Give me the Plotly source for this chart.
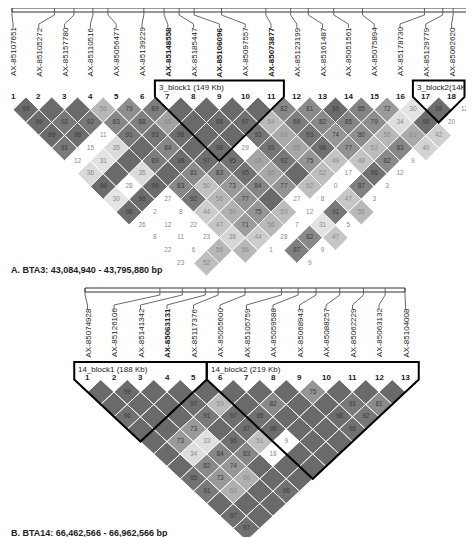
import plotly.graph_objects as go

# ---- panel A: BTA3 ----
snps_a = ["AX-85107651", "AX-85105272", "AX-85157780", "AX-85110516", "AX-85056477",
          "AX-85139229", "AX-85148558", "AX-85185447", "AX-85106096", "AX-85097557",
          "AX-85073877", "AX-85123199", "AX-85161487", "AX-85051561", "AX-85075894",
          "AX-85178730", "AX-85129779", "AX-85062620", "AX-85116960"]
bold_a = [7, 9, 11]
pos_a_kb = [0, 65, 95, 124, 147, 202, 233, 256, 279, 321, 389, 427, 454, 493, 537, 632, 660, 676, 711]
# LD rows: ld_a[i-1] holds values for pairs (i, i+1), (i, i+2), ...  100 = no number shown
ld_a = [
    [99, 99, 99, 91, 12, 36, 99, 30, 98, 26, 8, 22, 23],
    [100, 92, 98, 15, 31, 100, 28, 99, 2, 12, 11, 6, 52],
    [100, 92, 11, 35, 100, 35, 99, 27, 8, 22, 23, 56],
    [56, 83, 91, 100, 89, 100, 83, 92, 44, 47, 38, 56],
    [79, 88, 93, 84, 98, 81, 50, 56, 59, 71, 44, 1],
    [89, 68, 98, 100, 97, 83, 73, 77, 75, 56, 28, 87, 9],
    [100, 100, 100, 98, 95, 95, 84, 100, 53, 7, 82, 9],
    [100, 98, 100, 29, 66, 65, 77, 27, 12, 31, 47],
    [100, 97, 93, 93, 92, 100, 52, 8, 91, 5],
    [100, 54, 63, 65, 75, 52, 0, 47, 55],
    [82, 89, 93, 96, 49, 17, 87, 3],
    [81, 82, 74, 77, 49, 96, 3],
    [99, 85, 80, 53, 82, 12],
    [85, 79, 56, 83, 9],
    [72, 34, 63, 40],
    [30, 98, 42],
    [98, 20],
    [12],
]
blocks_a = [(7, 11, "3_block1 (149 Kb)"), (17, 18, "3_block2(14Kb)")]

# ---- panel B: BTA14 ----
snps_b = ["AX-85074928", "AX-85126106", "AX-85141342", "AX-85063131", "AX-85117376",
          "AX-85055600", "AX-85105759", "AX-85059588", "AX-85068943", "AX-85088257",
          "AX-85062229", "AX-85063132", "AX-85104008"]
bold_b = [4]
pos_b_kb = [0, 117, 152, 188, 208, 250, 307, 333, 361, 398, 435, 469, 500]
ld_b = [
    [100, 100, 96, 100, 100, 100, 100, 95, 91, 100, 97, 97],
    [99, 100, 100, 100, 73, 34, 82, 73, 60, 100, 100],
    [100, 100, 100, 73, 33, 84, 74, 60, 100, 100],
    [100, 97, 91, 100, 96, 83, 100, 100, 96],
    [100, 53, 97, 97, 51, 18, 100, 100],
    [100, 100, 95, 98, 9, 100, 100],
    [100, 82, 100, 100, 100, 100],
    [100, 100, 100, 100, 100],
    [75, 100, 98, 96],
    [100, 91, 92],
    [100, 81],
    [100],
]
blocks_b = [(1, 5, "14_block1 (188 Kb)"), (6, 13, "14_block2 (219 Kb)")]

FONT = "Liberation Sans, Arial, sans-serif"


def cell_fill(v):
    if v < 30:
        return "#ffffff"
    g = int(min(235, 106 + (100 - v) * 1.75))
    return f"rgb({g},{g},{g})"


def draw_panel(fig, snps, bold, pos_kb, ld, blocks, geo, map_x):
    x0, hx, y1, dy, map_y, lab_y, num_y, box_top = geo
    n = len(snps)
    xs = [x0 + 2 * hx * k for k in range(n)]

    # physical map bar with ticks and connectors
    span = pos_kb[-1]
    mx0, mx1 = map_x
    fig.add_shape(type="rect", x0=mx0, x1=mx1, y0=map_y - 4, y1=map_y,
                  line=dict(color="#333", width=1), fillcolor="white")
    lab_top = lab_y - 24
    for k in range(n):
        tx = mx0 + (mx1 - mx0) * pos_kb[k] / span
        fig.add_shape(type="path",
                      path=f"M{tx},{map_y - 4} L{tx},{map_y + 3} L{xs[k]},{lab_top - 4} L{xs[k]},{lab_top}",
                      line=dict(color="#444", width=0.8))
        name = f"<b>{snps[k]}</b>" if k + 1 in bold else snps[k]
        fig.add_annotation(x=xs[k], y=lab_y, text=name, textangle=-90, showarrow=False,
                           xanchor="center", yanchor="middle",
                           font=dict(family=FONT, size=8, color="#222"))
        fig.add_annotation(x=xs[k], y=num_y, text=f"<b>{k + 1}</b>", showarrow=False,
                           font=dict(family=FONT, size=8, color="#222"))

    tx_, ty_, tt_, tc_ = [], [], [], []
    for i, row in enumerate(ld):
        for off, v in enumerate(row):
            j = i + off + 1
            d = j - i
            cx = (xs[i] + xs[j]) / 2
            cy = y1 + (d - 1) * dy
            fig.add_shape(type="path",
                          path=f"M{cx - hx},{cy} L{cx},{cy - dy} L{cx + hx},{cy} L{cx},{cy + dy} Z",
                          fillcolor=cell_fill(v), line=dict(color="white", width=1), layer="below")
            if v < 100:
                tx_.append(cx)
                ty_.append(cy)
                tt_.append(str(v))
                tc_.append("#3a3a3a" if v >= 70 else "#8a8a8a")
    fig.add_trace(go.Scatter(x=tx_, y=ty_, text=tt_, mode="text", hoverinfo="skip",
                             textfont=dict(family=FONT, size=6.5, color=tc_)))

    # haplotype block outlines
    for a, b, label in blocks:
        xl = xs[a - 1] - hx
        xr = xs[b - 1] + hx
        ax = (xs[a - 1] + xs[b - 1]) / 2
        ay = y1 + (b - a) * dy
        ys = y1 - dy
        fig.add_shape(type="path",
                      path=f"M{xl},{box_top} L{xl},{ys} L{ax},{ay} L{xr},{ys} L{xr},{box_top} Z",
                      line=dict(color="black", width=2))
        fig.add_annotation(x=xl + 2, y=box_top + 7, text=label, showarrow=False,
                           xanchor="left", yanchor="middle",
                           font=dict(family=FONT, size=8, color="#222"))


fig = go.Figure()
draw_panel(fig, snps_a, bold_a, pos_a_kb, ld_a, blocks_a,
           (5, 12.9, 101.7, 12.8, 4, 44, 88.5, 72.5), (4, 468))
draw_panel(fig, snps_b, bold_b, pos_b_kb, ld_b, blocks_b,
           (79.5, 13.25, 384, 12.4, 284, 325, 369, 354), (77, 397))

fig.add_annotation(x=1, y=262, text="<b>A. BTA3: 43,084,940 - 43,795,880 bp</b>", showarrow=False,
                   xanchor="left", font=dict(family=FONT, size=9, color="#222"))
fig.add_annotation(x=1, y=525, text="<b>B. BTA14: 66,462,566 - 66,962,566 bp</b>", showarrow=False,
                   xanchor="left", font=dict(family=FONT, size=9, color="#222"))

fig.update_layout(
    width=474, height=537,
    margin=dict(l=0, r=0, t=0, b=0),
    paper_bgcolor="white", plot_bgcolor="white",
    showlegend=False,
    xaxis=dict(range=[0, 474], visible=False, fixedrange=True),
    yaxis=dict(range=[537, 0], visible=False, fixedrange=True),
)

fig.write_html("out.html")
